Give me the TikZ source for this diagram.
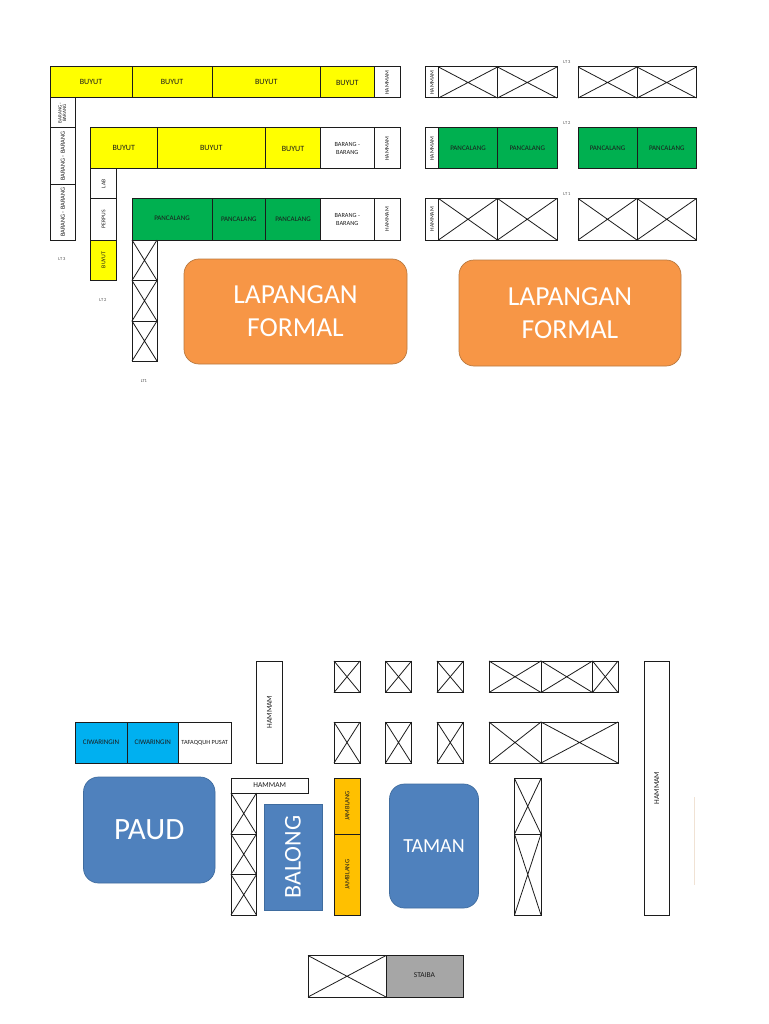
\documentclass[tikz,border=0pt]{standalone}
\usepackage{graphicx}
\usepackage{fontspec}
\setmainfont{Carlito}
\definecolor{cyel}{HTML}{FFFF00}
\definecolor{cgrn}{HTML}{00B050}
\definecolor{ccya}{HTML}{00B0F0}
\definecolor{camb}{HTML}{FFC000}
\definecolor{cgry}{HTML}{A6A6A6}
\definecolor{cora}{HTML}{F79646}
\definecolor{corb}{HTML}{B9793F}
\definecolor{cblu}{HTML}{4F81BD}
\definecolor{cblb}{HTML}{3F6C9F}
\definecolor{cink}{HTML}{1C1C1C}
\definecolor{ctan}{HTML}{F0E2D4}
\tikzset{
  room/.style={draw=cink,line width=1pt,inner sep=0pt,outer sep=0pt,fill=white,text=cink,font=\fontsize{6.3}{8}\selectfont,align=center},
  yel/.style={fill=cyel,font=\fontsize{8}{9}\selectfont},
  grn/.style={fill=cgrn,font=\fontsize{7}{8}\selectfont},
  cya/.style={fill=ccya,font=\fontsize{7}{8}\selectfont},
  amb/.style={fill=camb,font=\fontsize{6.5}{8}\selectfont},
  gry/.style={fill=cgry,font=\fontsize{7.5}{9}\selectfont},
  tiny/.style={font=\fontsize{5.6}{6.5}\selectfont},
  hamlabel/.style={font=\fontsize{7.5}{9}\selectfont},
  field/.style={draw=corb,fill=cora,line width=0.7pt,rounded corners=15pt,inner sep=0pt,outer sep=0pt,text=white,align=center,font=\fontsize{27.5}{33}\selectfont},
  pool/.style={draw=cblb,fill=cblu,line width=0.7pt,rounded corners=15pt,inner sep=0pt,outer sep=0pt,text=white,align=center},
  lvl/.style={inner sep=0pt,text=cink!80,font=\fontsize{4.5}{5.5}\selectfont},
  cross/.style={cink,line width=0.8pt}
}
\newcommand{\rbx}[7][]{\pgfmathsetlengthmacro{\wdd}{(#5)-(#3)}\pgfmathsetlengthmacro{\htt}{(#6)-(#4)}%
  \node[room,#1,minimum width=\wdd,minimum height=\htt] (#2) at ({((#3)+(#5))/2},{((#4)+(#6))/2}) {#7};}
\newcommand{\xbx}[5]{\rbx{#1}{#2}{#3}{#4}{#5}{}\draw[cross] (#1.north west) -- (#1.south east) (#1.north east) -- (#1.south west);}
\newcommand{\vt}[1]{\rotatebox{90}{#1}}
\newcommand{\up}[1]{\raisebox{1.5pt}{#1}}
\begin{document}
\begin{tikzpicture}[x=1pt,y=-1pt]
\useasboundingbox (0,0) rectangle (768,1024);
% ---- top-left block
\rbx[yel]{a1}{50}{67}{132}{98}{\up{BUYUT}}
\rbx[yel]{a2}{132}{67}{212}{98}{\up{BUYUT}}
\rbx[yel]{a3}{212}{67}{320.5}{98}{\up{BUYUT}}
\rbx[yel]{a4}{320.5}{67}{374}{98}{BUYUT}
\rbx[tiny]{a5}{374}{67}{400}{98}{\vt{HAMMAM}}
\rbx[font=\fontsize{5}{6}\selectfont]{b1}{50}{98}{75.5}{128}{\vt{\begin{tabular}{@{}c@{}}BARANG -\\[-1.5pt]BARANG\end{tabular}}}
\rbx{b2}{50}{128}{75.5}{184.5}{\vt{BARANG - BARANG}}
\rbx{b3}{50}{184.5}{75.5}{240}{\vt{BARANG - BARANG}}
\rbx[yel]{c1}{90.5}{128}{157}{169}{\up{BUYUT}}
\rbx[yel]{c2}{157}{128}{265.5}{169}{\up{BUYUT}}
\rbx[yel]{c3}{265.5}{128}{320.5}{169}{BUYUT}
\rbx{c4}{320.5}{128}{374}{169}{BARANG -\\BARANG}
\rbx[tiny]{c5}{374}{128}{400}{169}{\vt{HAMMAM}}
\rbx[tiny]{d1}{90.5}{169}{116.5}{198.5}{\vt{LAB}}
\rbx[tiny]{d2}{90.5}{198.5}{116.5}{240}{\vt{PERPUS}}
\rbx[yel,font=\fontsize{5.8}{7}\selectfont]{d3}{90.5}{240}{116.5}{280}{\vt{BUYUT}}
\rbx[grn]{e1}{132}{198.5}{212}{240}{\up{PANCALANG}}
\rbx[grn]{e2}{212}{198.5}{265.5}{240}{PANCALANG}
\rbx[grn]{e3}{265.5}{198.5}{320.5}{240}{PANCALANG}
\rbx{e4}{320.5}{198.5}{374}{240}{BARANG -\\BARANG}
\rbx[tiny]{e5}{374}{198.5}{400}{240}{\vt{HAMMAM}}
\xbx{f1}{132}{240}{157}{280.5}
\xbx{f2}{132}{280.5}{157}{321}
\xbx{f3}{132}{321}{157}{361}
\node[field,minimum width=223,minimum height=105] (lap1) at (295.5,311.5) {LAPANGAN\\FORMAL};
\node[lvl] (t1) at (62,259) {LT 3};
\node[lvl] (t2) at (103,300) {LT 2};
\node[lvl] (t3) at (144,381) {LT1};
% ---- top-right block
\rbx[tiny]{g0}{425.5}{67}{438.5}{98}{\vt{HAMMAM}}
\xbx{g1}{438.5}{67}{497.5}{98}
\xbx{g2}{497.5}{67}{557}{98}
\xbx{g3}{578}{67}{637}{98}
\xbx{g4}{637}{67}{696.5}{98}
\rbx[tiny]{h0}{425.5}{128}{438.5}{169}{\vt{HAMMAM}}
\rbx[grn]{h1}{438.5}{128}{497.5}{169}{\up{PANCALANG}}
\rbx[grn]{h2}{497.5}{128}{557}{169}{\up{PANCALANG}}
\rbx[grn]{h3}{578}{128}{637}{169}{\up{PANCALANG}}
\rbx[grn]{h4}{637}{128}{696.5}{169}{\up{PANCALANG}}
\rbx[tiny]{i0}{425.5}{198.5}{438.5}{240}{\vt{HAMMAM}}
\xbx{i1}{438.5}{198.5}{497.5}{240}
\xbx{i2}{497.5}{198.5}{557}{240}
\xbx{i3}{578}{198.5}{637}{240}
\xbx{i4}{637}{198.5}{696.5}{240}
\node[field,minimum width=222,minimum height=106] (lap2) at (570,313) {LAPANGAN\\FORMAL};
\node[lvl] (t4) at (567,62) {LT 3};
\node[lvl] (t5) at (567,123) {LT 2};
\node[lvl] (t6) at (567,194) {LT 1};
% ---- bottom block
\rbx[cya]{j1}{75}{722}{127}{763}{CIWARINGIN}
\rbx[cya]{j2}{127}{722}{178.5}{763}{CIWARINGIN}
\rbx{j3}{178.5}{722}{231}{763}{TAFAQQUH PUSAT}
\rbx[hamlabel]{k1}{256.5}{661}{282.5}{763}{\vt{HAMMAM}}
\rbx[hamlabel]{k2}{231}{778}{308.5}{793}{HAMMAM}
\xbx{l1}{231}{793}{256.5}{834}
\xbx{l2}{231}{834}{256.5}{874.5}
\xbx{l3}{231}{874.5}{256.5}{915}
\node[pool,minimum width=131.5,minimum height=106,font=\fontsize{31}{36}\selectfont] (paud) at (149.25,830) {PAUD};
\node[pool,rounded corners=0pt,minimum width=58,minimum height=106,font=\fontsize{24}{30}\selectfont] (balong) at (293,857) {\vt{BALONG}};
\node[pool,minimum width=89,minimum height=124,font=\fontsize{20}{24}\selectfont] (taman) at (434,846) {TAMAN};
\rbx[amb]{m1}{334.5}{778}{360}{834}{\vt{JAMBLANG}}
\rbx[amb]{m2}{334.5}{834}{360}{915}{\vt{JAMBLANG}}
\xbx{n1}{334}{661}{360}{692.5}
\xbx{n2}{385.5}{661}{411.5}{692.5}
\xbx{n3}{437}{661}{463.5}{692.5}
\xbx{n4}{489}{661}{541}{692.5}
\xbx{n5}{541}{661}{592.5}{692.5}
\xbx{n6}{592.5}{661}{618}{692.5}
\xbx{o1}{334}{722}{360}{763}
\xbx{o2}{385.5}{722}{411.5}{763}
\xbx{o3}{437}{722}{463.5}{763}
\xbx{o4}{489}{722}{541}{763}
\xbx{o5}{541}{722}{618}{763}
\rbx[hamlabel]{p0}{644}{661}{669.5}{915}{\vt{HAMMAM}}
\xbx{q1}{514.5}{778.5}{541}{834}
\xbx{q2}{514.5}{834}{541}{915}
\xbx{r1}{308}{955.5}{386}{997}
\rbx[gry]{r2}{386}{955.5}{463}{997}{\up{STAIBA}}
\coordinate (s1) at (694.5,797);
\coordinate (s2) at (694.5,885);
\draw[ctan,line width=0.8pt] (s1) -- (s2);
\end{tikzpicture}
\end{document}
